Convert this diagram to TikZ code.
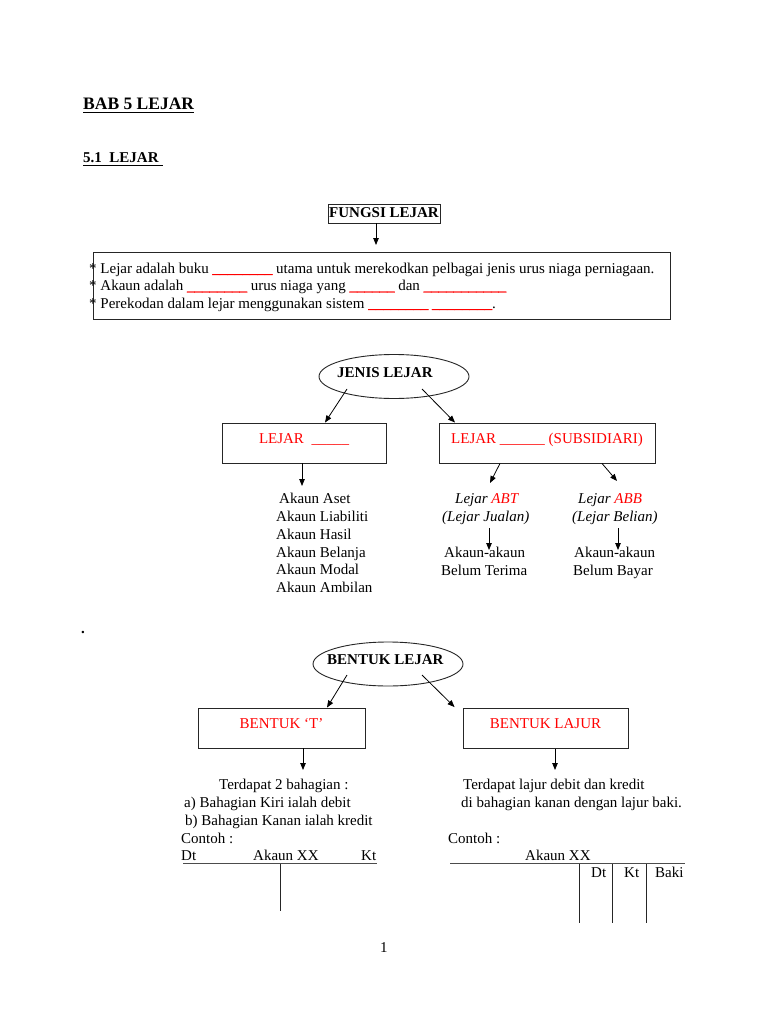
\documentclass[tikz,border=0pt]{standalone}
\usepackage{fontspec}
\setmainfont{Liberation Serif}
\newfontface\blankfont{Liberation Serif}[FakeBold=1.5]
\usetikzlibrary{arrows.meta,shapes.geometric}
\newcommand\rb[1]{\textcolor{red}{\blankfont #1}}
\begin{document}
\begin{tikzpicture}[x=1pt,y=-1pt,
  every node/.style={font=\fontsize{15}{18}\selectfont},
  txt/.style={inner sep=0pt, anchor=base west},
  hd/.style={txt, font=\fontsize{15}{18}\selectfont\bfseries},
  it/.style={txt, font=\fontsize{15}{18}\selectfont\itshape},
  box/.style={draw=black!85, line width=0.9pt, rectangle, inner xsep=0pt, inner ysep=4pt, text height=16pt, text depth=16pt, text=red},
  ell/.style={draw=black!85, line width=0.9pt, ellipse, minimum width=150pt, minimum height=44pt, inner sep=0pt},
  arr/.style={-{Triangle[length=7pt,width=5.5pt]}, line width=0.8pt},
  tline/.style={line width=1.5pt, draw=black!70},
  vline/.style={line width=0.9pt, draw=black!85},
  underl/.style={line width=1.2pt}]
\fill[white] (0,0) rectangle (768,1024);
\useasboundingbox (0,0) rectangle (768,1024);

% headings
\node[hd, font=\fontsize{17.5}{21}\selectfont\bfseries] (bab) at (83,110) {BAB 5 LEJAR};
\draw[underl] ([yshift=-2.5pt]bab.base west) -- ([yshift=-2.5pt]bab.base east);
\node[hd] (sec) at (83,163) {5.1~~LEJAR};
\draw[underl] ([yshift=-2.5pt]sec.base west) -- ([shift={(4,2.5)}]sec.base east);

% fungsi
\node[draw=black!85, line width=0.9pt, inner xsep=0pt, inner ysep=2pt, text height=12pt, text depth=3pt,
      minimum width=112pt, font=\fontsize{15}{18}\selectfont\bfseries] (fungsi) at (384,213.5) {FUNGSI LEJAR};
\node[draw=black!85, line width=0.9pt, minimum width=577pt, minimum height=67pt, inner sep=0pt] (box1) at (381.5,285.5) {};
\coordinate (f1) at (376,245);
\draw[arr] ([shift={(-8,0)}]fungsi.south) -- (f1);
\node[txt] (l1) at (89,273) {* Lejar adalah buku \rb{\_\_\_\_\_\_\_\_} utama untuk merekodkan pelbagai jenis urus niaga perniagaan.};
\node[txt] (l2) at (89,290.5) {* Akaun adalah \rb{\_\_\_\_\_\_\_\_} urus niaga yang \rb{\_\_\_\_\_\_} dan \rb{\_\_\_\_\_\_\_\_\_\_\_}};
\node[txt] (l3) at (89,308) {* Perekodan dalam lejar menggunakan sistem \rb{\_\_\_\_\_\_\_\_} \rb{\_\_\_\_\_\_\_\_}.};

% jenis lejar
\node[ell] (jenis) at (394,376.5) {};
\node[hd] (jenisT) at (337,377) {JENIS LEJAR};
\node[box, minimum width=164pt] (lejar1) at (304,443) {LEJAR~~\_\_\_\_\_};
\node[box, minimum width=216pt] (lejar2) at (547,443) {LEJAR \_\_\_\_\_\_ (SUBSIDIARI)};
\draw[arr] ([shift={(-47,12.5)}]jenis.center) -- ([shift={(21,0)}]lejar1.north);
\draw[arr] ([shift={(28,12.5)}]jenis.center) -- ([shift={(-92,0)}]lejar2.north);
\coordinate (a1) at (302,486);
\coordinate (a2) at (490,483);
\coordinate (a3) at (617,481);
\draw[arr] ([shift={(-2,0)}]lejar1.south) -- (a1);
\draw[arr] ([shift={(-47,0)}]lejar2.south) -- (a2);
\draw[arr] ([shift={(55,0)}]lejar2.south) -- (a3);

\node[txt] (k1) at (279,503) {Akaun Aset};
\node[txt] (k2) at (276,521) {Akaun Liabiliti};
\node[txt] (k3) at (276,539) {Akaun Hasil};
\node[txt] (k4) at (276,557) {Akaun Belanja};
\node[txt] (k5) at (276,574) {Akaun Modal};
\node[txt] (k6) at (276,592) {Akaun Ambilan};

\node[it] (abt) at (455,503) {Lejar \textcolor{red}{ABT}};
\node[it] (jual) at (442,521) {(Lejar Jualan)};
\node[it] (abb) at (578,503) {Lejar \textcolor{red}{ABB}};
\node[it] (beli) at (572,521) {(Lejar Belian)};
\coordinate (b1) at (489,528);
\coordinate (b2) at (489,550);
\coordinate (c1) at (618,528);
\coordinate (c2) at (618,550);
\draw[arr] (b1) -- (b2);
\draw[arr] (c1) -- (c2);
\node[txt] (aa1) at (444,557) {Akaun-akaun};
\node[txt] (bt) at (441,575) {Belum Terima};
\node[txt] (aa2) at (574,557) {Akaun-akaun};
\node[txt] (bb) at (573,575) {Belum Bayar};

\node[hd] (dot) at (81,633) {.};

% bentuk lejar
\node[ell] (bentuk) at (388,664) {};
\node[hd] (bentukT) at (327,664) {BENTUK LEJAR};
\node[box, minimum width=167pt] (tbox) at (281.5,728) {BENTUK `T'};
\node[box, minimum width=165pt] (lajur) at (545.5,728.5) {BENTUK LAJUR};
\draw[arr] ([shift={(-41,11)}]bentuk.center) -- ([shift={(45.5,0)}]tbox.north);
\draw[arr] ([shift={(34,11)}]bentuk.center) -- ([shift={(-8,-1)}]lajur.north west);
\coordinate (d1) at (303,770);
\coordinate (d2) at (555,770);
\draw[arr] ([shift={(21.5,0)}]tbox.south) -- (d1);
\draw[arr] ([shift={(9.5,0)}]lajur.south) -- (d2);

\node[txt] (t1) at (219,789) {Terdapat 2 bahagian :};
\node[txt] (t2) at (184,807) {a) Bahagian Kiri ialah debit};
\node[txt] (t3) at (185,825) {b) Bahagian Kanan ialah kredit};
\node[txt] (t4) at (181,843) {Contoh :};
\node[txt] (tdt) at (181,860) {Dt};
\node[txt] (txx) at (253,860) {Akaun XX};
\node[txt] (tkt) at (361,860) {Kt};
\draw[tline] (183,863.5) -- (377,863.5);
\draw[vline] (280,864) -- (280,911);

\node[txt] (r1) at (463,789) {Terdapat lajur debit dan kredit};
\node[txt] (r2) at (461,807) {di bahagian kanan dengan lajur baki.};
\node[txt] (r3) at (448,843) {Contoh :};
\node[txt] (rxx) at (525,860) {Akaun XX};
\node[txt] (rdt) at (591,877) {Dt};
\node[txt] (rkt) at (624,877) {Kt};
\node[txt] (rbk) at (655,877) {Baki};
\draw[tline] (450,863.5) -- (685,863.5);
\draw[vline] (579,864) -- (579,923);
\draw[vline] (612,864) -- (612,923);
\draw[vline] (646,864) -- (646,923);

\node[txt] (page) at (380,952) {1};
\end{tikzpicture}
\end{document}
